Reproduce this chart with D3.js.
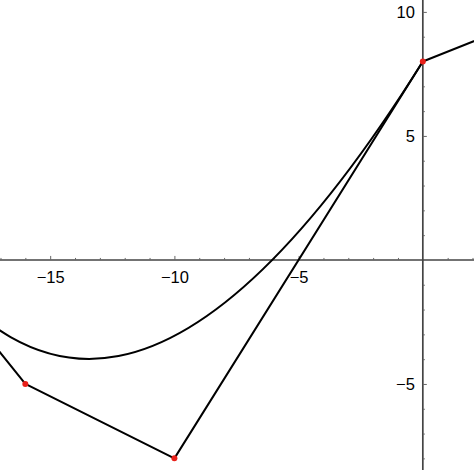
<!DOCTYPE html>
<html>
<head>
<meta charset="utf-8">
<script src="https://cdn.jsdelivr.net/npm/d3@7"></script>
<style>
  html, body { margin: 0; padding: 0; background: #fff; }
  svg { display: block; }
  .tick text { font-family: "Liberation Sans", Arial, sans-serif; font-size: 16.5px; fill: #000; }
</style>
</head>
<body>
<svg id="chart"></svg>
<script>
// Control polygon (the bezier uses the first four points)
const ctrlX = [-20, -16, -10, 0, 5];
const ctrlY = [0, -5, -8, 8, 10];

// Highlighted points
const dotX = [-16, -10, 0];
const dotY = [-5, -8, 8];

// Tick values
const xMajor = [-15, -10, -5];
const xMinor = d3.range(-17, 3).filter(v => v % 5 !== 0);
const yMajor = [-5, 5, 10];
const yMinor = d3.range(-8, 11).filter(v => v % 5 !== 0);

const W = 474, H = 474;
const svg = d3.select("#chart").attr("width", W).attr("height", H);

let x = d3.scaleLinear().domain([-17.02, 2.06]).range([0, W]);
let y = d3.scaleLinear().domain([-8.63, 10.48]).range([H, 0]);

// Axis lines
svg.append("line")
    .attr("x1", 0).attr("x2", W)
    .attr("y1", y(0)).attr("y2", y(0))
    .attr("stroke", "#444").attr("stroke-width", 1.5);
svg.append("line")
    .attr("x1", x(0)).attr("x2", x(0))
    .attr("y1", y(-8.47)).attr("y2", 0)
    .attr("stroke", "#444").attr("stroke-width", 1.7);

// x ticks (pointing up, labels below)
let gx = svg.append("g").attr("transform", `translate(0,${y(0)})`);
gx.append("g").call(d3.axisBottom(x).tickValues(xMinor).tickSize(-2).tickFormat(""));
gx.append("g").call(d3.axisBottom(x).tickValues(xMajor).tickSize(-4).tickPadding(11));
gx.selectAll(".domain").remove();
gx.selectAll(".tick line").attr("stroke", "#666");

// y ticks (pointing right, labels left)
let gy = svg.append("g").attr("transform", `translate(${x(0)},0)`);
gy.append("g").call(d3.axisLeft(y).tickValues(yMinor).tickSize(-2).tickFormat(""));
gy.append("g").call(d3.axisLeft(y).tickValues(yMajor).tickSize(-4).tickPadding(8));
gy.selectAll(".domain").remove();
gy.selectAll(".tick line").attr("stroke", "#666");

// Control polygon
const pts = ctrlX.map((v, i) => [v, ctrlY[i]]);
svg.append("path")
    .attr("d", d3.line().x(d => x(d[0])).y(d => y(d[1]))(pts))
    .attr("fill", "none").attr("stroke", "#000").attr("stroke-width", 2)
    .attr("stroke-linejoin", "round");

// Cubic bezier from the first four control points
let p = d3.path();
p.moveTo(x(pts[0][0]), y(pts[0][1]));
p.bezierCurveTo(x(pts[1][0]), y(pts[1][1]), x(pts[2][0]), y(pts[2][1]), x(pts[3][0]), y(pts[3][1]));
svg.append("path")
    .attr("d", p.toString())
    .attr("fill", "none").attr("stroke", "#000").attr("stroke-width", 2);

// Red dots
svg.selectAll("circle.dot")
    .data(dotX.map((v, i) => [v, dotY[i]]))
    .enter().append("circle")
    .attr("class", "dot")
    .attr("cx", d => x(d[0]))
    .attr("cy", d => y(d[1]))
    .attr("r", 3)
    .attr("fill", "#e8201a");
</script>
</body>
</html>
